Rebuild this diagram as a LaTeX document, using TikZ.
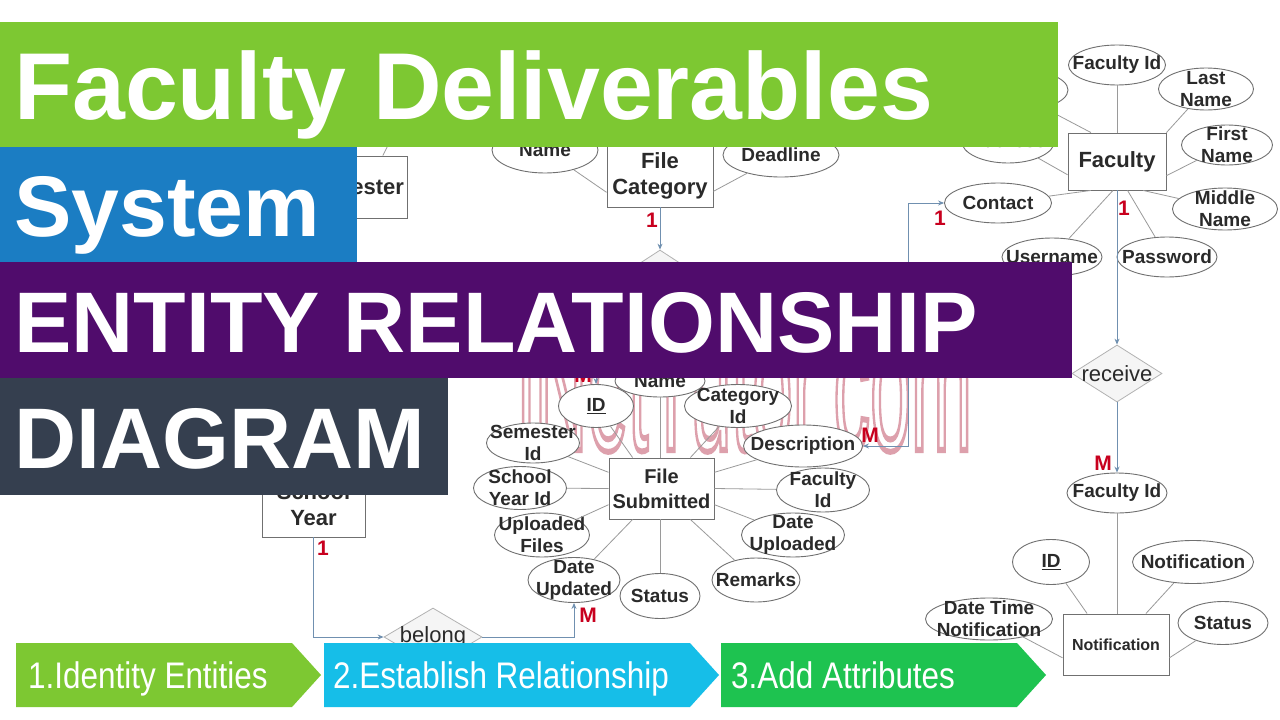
\documentclass[tikz,border=0pt]{standalone}
\usepackage{fontspec}
\setmainfont{Liberation Sans}
\usetikzlibrary{shapes.geometric,arrows.meta,calc}
\definecolor{bgreen}{HTML}{7DC832}
\definecolor{bblue}{HTML}{1B7DC3}
\definecolor{bpurple}{HTML}{500C6C}
\definecolor{bslate}{HTML}{353F4F}
\definecolor{ccyan}{HTML}{16BEE8}
\definecolor{cgreentwo}{HTML}{1EC350}
\definecolor{txt}{HTML}{2A2A2A}
\definecolor{shapeline}{HTML}{707070}
\definecolor{attrline}{HTML}{9A9A9A}
\definecolor{relline}{HTML}{7090B0}
\definecolor{cardred}{HTML}{C8001E}
\definecolor{wm}{HTML}{DDA0AC}
\tikzset{
  attr/.style={ellipse, draw=shapeline, line width=0.9pt, fill=white, inner sep=0pt},
  atxt/.style={text=txt, font=\bfseries\fontsize{19}{22}\selectfont, align=center, inner sep=0pt},
  tx/.style={label={[atxt]center:{#1}}},
  ent/.style={rectangle, draw=shapeline, line width=0.9pt, fill=white, inner sep=0pt, text=txt, font=\bfseries\fontsize{22}{26}\selectfont, align=center},
  relbox/.style={diamond, draw=gray!60, line width=0.8pt, fill=gray!8, inner sep=0pt},
  rtxt/.style={text=txt, font=\fontsize{22}{26}\selectfont, inner sep=0pt},
  conn/.style={draw=attrline, line width=0.8pt},
  relconn/.style={draw=relline, line width=0.9pt, -{Stealth[length=6pt,width=5pt]}},
  card/.style={text=cardred, font=\bfseries\fontsize{21}{21}\selectfont, inner sep=0pt},
  bigtitle/.style={anchor=base west, inner sep=0pt, text=white, font=\bfseries\fontsize{86}{86}\selectfont},
  steptext/.style={anchor=base west, inner sep=0pt, text=white, font=\fontsize{37}{37}\selectfont}
}
\begin{document}
\begin{tikzpicture}[x=1pt,y=-1pt]
\fill[white] (0,0) rectangle (1280,720);
\useasboundingbox (0,0) rectangle (1280,720);

% watermark
\node[anchor=base west, inner sep=0pt, text=wm, font=\fontsize{190}{190}\selectfont] (wmk) at (518,450)
  {\scalebox{0.386}[1]{\special{pdf:literal direct 1 Tr 6 w}iNetTutor.com\special{pdf:literal direct 0 Tr}}};

% ---------- Faculty ----------
\node[ent, minimum width=98, minimum height=57] (fac) at (1117,161.5) {Faculty};
\node[attr, minimum width=116, minimum height=44] (fhid) at (1010,90) {};
\node[attr, minimum width=93, minimum height=44, tx={Address}] (faddr) at (1008,141) {};
\node[attr, minimum width=97, minimum height=40, tx={Faculty Id}] (ffid) at (1117,65) {};
\node[attr, minimum width=95, minimum height=42, tx={Last\\Name}] (flast) at (1206,89) {};
\node[attr, minimum width=91, minimum height=40, tx={First\\Name}] (ffirst) at (1227,145) {};
\node[attr, minimum width=105, minimum height=42, tx={Middle\\Name}] (fmid) at (1225,209) {};
\node[attr, minimum width=100, minimum height=40, tx={Password}] (fpwd) at (1167,257) {};
\node[attr, minimum width=100, minimum height=38, tx={Username}] (fuser) at (1052,257) {};
\node[attr, minimum width=107, minimum height=40, tx={Contact}] (fcont) at (998,203) {};

\draw[conn] (ffid) -- (ffid |- fac.north);
\draw[conn] (flast) -- (fac.north east);
\draw[conn] (ffirst) -- (fac.-16);
\draw[conn] (fmid) -- (fac.-48);
\draw[conn] (fpwd) -- (fac.-70);
\draw[conn] (fuser) -- (fac.-98);
\draw[conn] (fcont) -- (fac.-132);
\draw[conn] (faddr) -- (fac.195);
\draw[conn] (fhid) -- (fac.132);

\node[relbox, minimum width=90, minimum height=57, label={[rtxt]center:receive}] (rcv) at (1117,373.5) {};
\draw[relconn] (fac.south) -- (rcv.north);
\node[card] (c1) at (1124,208) {1};
\node[attr, minimum width=100, minimum height=40, tx={Faculty Id}] (ffid2) at (1117,493) {};
\draw[relconn] (rcv.south) -- (ffid2.north);
\node[card] (c2) at (1103,463) {M};

% ---------- Notification ----------
\node[ent, minimum width=106, minimum height=61, font=\bfseries\fontsize{16}{19}\selectfont] (notif) at (1116,644.5) {Notification};
\node[attr, minimum width=77, minimum height=45, tx={\underline{ID}}] (nid) at (1051,562) {};
\node[attr, minimum width=121, minimum height=43, tx={Notification}] (nnot) at (1193,562) {};
\node[attr, minimum width=90, minimum height=43, tx={Status}] (nstat) at (1223,623) {};
\node[attr, minimum width=127, minimum height=42, tx={Date Time\\Notification}] (ndtn) at (989,619) {};
\draw[conn] (ffid2.south) -- (ffid2.south |- notif.north);
\draw[conn] (nid) -- (notif.133);
\draw[conn] (nnot) -- (notif.46);
\draw[conn] (nstat) -- (notif.-14);
\draw[conn] (ndtn) -- (notif.194);

% ---------- File Category ----------
\node[ent, minimum width=106, minimum height=62] (fcat) at (660,176) {File\\Category};
\node[attr, minimum width=106, minimum height=46, tx={Name}] (fcname) at (545,150) {};
\node[attr, minimum width=116, minimum height=44, tx={Deadline}] (fcdead) at (781,155) {};
\draw[conn] (fcname) -- (fcat.197);
\draw[conn] (fcdead) -- (fcat.-16);
\node[relbox, minimum width=92, minimum height=60] (rel1) at (660,280) {};
\draw[relconn] (fcat.south) -- (rel1.north);
\node[card] (c3) at (652,220) {1};

% ---------- Semester ----------
\node[ent, minimum width=105, minimum height=62] (sem) at (354.5,187) {Semester};
\coordinate (semup) at (398,125);
\draw[conn] (sem.48) -- (semup);

% ---------- File Submitted ----------
\node[ent, minimum width=105, minimum height=61, font=\bfseries\fontsize{20}{25}\selectfont] (fs) at (661.5,488.5) {File\\Submitted};
\node[attr, minimum width=90, minimum height=32, tx={Name}] (fsname) at (660,381) {};
\node[attr, minimum width=75, minimum height=43, tx={\underline{ID}}] (fsid) at (596,406) {};
\node[attr, minimum width=107, minimum height=43, tx={Category\\Id}] (fscat) at (738,406) {};
\node[attr, minimum width=93, minimum height=40, tx={Semester\\Id}] (fssem) at (533,443) {};
\node[attr, minimum width=119, minimum height=42, tx={Description}] (fsdesc) at (803,446) {};
\node[attr, minimum width=93, minimum height=43, tx={School\\Year Id}] (fssy) at (520,488) {};
\node[attr, minimum width=93, minimum height=44, tx={Faculty\\Id}] (fsfac) at (823,490) {};
\node[attr, minimum width=95, minimum height=44, tx={Uploaded\\Files}] (fsup) at (542,535) {};
\node[attr, minimum width=103, minimum height=44, tx={Date\\Uploaded}] (fsdu) at (793,535) {};
\node[attr, minimum width=92, minimum height=45, tx={Date\\Updated}] (fsupd) at (574,580) {};
\node[attr, minimum width=80, minimum height=45, tx={Status}] (fsstat) at (660,596) {};
\node[attr, minimum width=88, minimum height=44, tx={Remarks}] (fsrem) at (756,580) {};
\draw[conn] (fsname) -- (fsname |- fs.north);
\draw[conn] (fsid) -- (fs.133);
\draw[conn] (fscat) -- (fs.47);
\draw[conn] (fssem) -- (fs.163);
\draw[conn] (fsdesc) -- (fs.17);
\draw[conn] (fssy) -- (fs.west);
\draw[conn] (fsfac) -- (fs.east);
\draw[conn] (fsup) -- (fs.197);
\draw[conn] (fsdu) -- (fs.-17);
\draw[conn] (fsupd) -- (fs.-133);
\draw[conn] (fsstat) -- (fsstat |- fs.south);
\draw[conn] (fsrem) -- (fs.-47);

\draw[relconn] (rel1.south) -- ++(0,15) -| (fsid.north);
\node[card] (c4) at (583,375) {M};

% relationship Contact <-> Description
\node[relbox, minimum width=80, minimum height=56] (rel2) at (908,320) {};
\draw[relconn] (rel2.north) |- (fcont.west);
\draw[relconn] (rel2.south) |- (fsdesc.east);
\node[card] (c5) at (940,218) {1};
\node[card] (c6) at (870,435) {M};

% ---------- School Year ----------
\node[ent, minimum width=103, minimum height=64] (sy) at (313.5,505) {School\\Year};
\node[relbox, minimum width=98, minimum height=58, label={[rtxt]center:belong}] (belong) at (433,637) {};
\draw[relconn] (sy.south) |- (belong.west);
\draw[relconn] (belong.east) -| (fsupd.south);
\node[card] (c7) at (323,548) {1};
\node[card] (c8) at (588,615) {M};

% ---------- Title banners ----------
\fill[bgreen] (0,22) rectangle (1058,147);
\fill[bblue] (0,147) rectangle (357,262);
\fill[bpurple] (0,262) rectangle (1072,378);
\fill[bslate] (0,378) rectangle (448,495);
\node[bigtitle, font=\bfseries\fontsize{95}{95}\selectfont] (t1) at (14,119) {Faculty Deliverables};
\node[bigtitle] (t2) at (14,236) {System};
\node[bigtitle] (t3) at (14,352) {ENTITY RELATIONSHIP};
\node[bigtitle] (t4) at (14,468) {DIAGRAM};

% ---------- Step chevrons ----------
\fill[bgreen] (16,643) -- (292,643) -- (321,675) -- (292,707) -- (16,707) -- cycle;
\fill[ccyan] (324,643) -- (690,643) -- (719,675) -- (690,707) -- (324,707) -- cycle;
\fill[cgreentwo] (721,643) -- (1017,643) -- (1046,675) -- (1017,707) -- (721,707) -- cycle;
\node[steptext] (s1) at (28,688) {\scalebox{0.85}[1]{1.Identity Entities}};
\node[steptext] (s2) at (333,688) {\scalebox{0.85}[1]{2.Establish Relationship}};
\node[steptext] (s3) at (731,688) {\scalebox{0.85}[1]{3.Add Attributes}};
\end{tikzpicture}
\end{document}
